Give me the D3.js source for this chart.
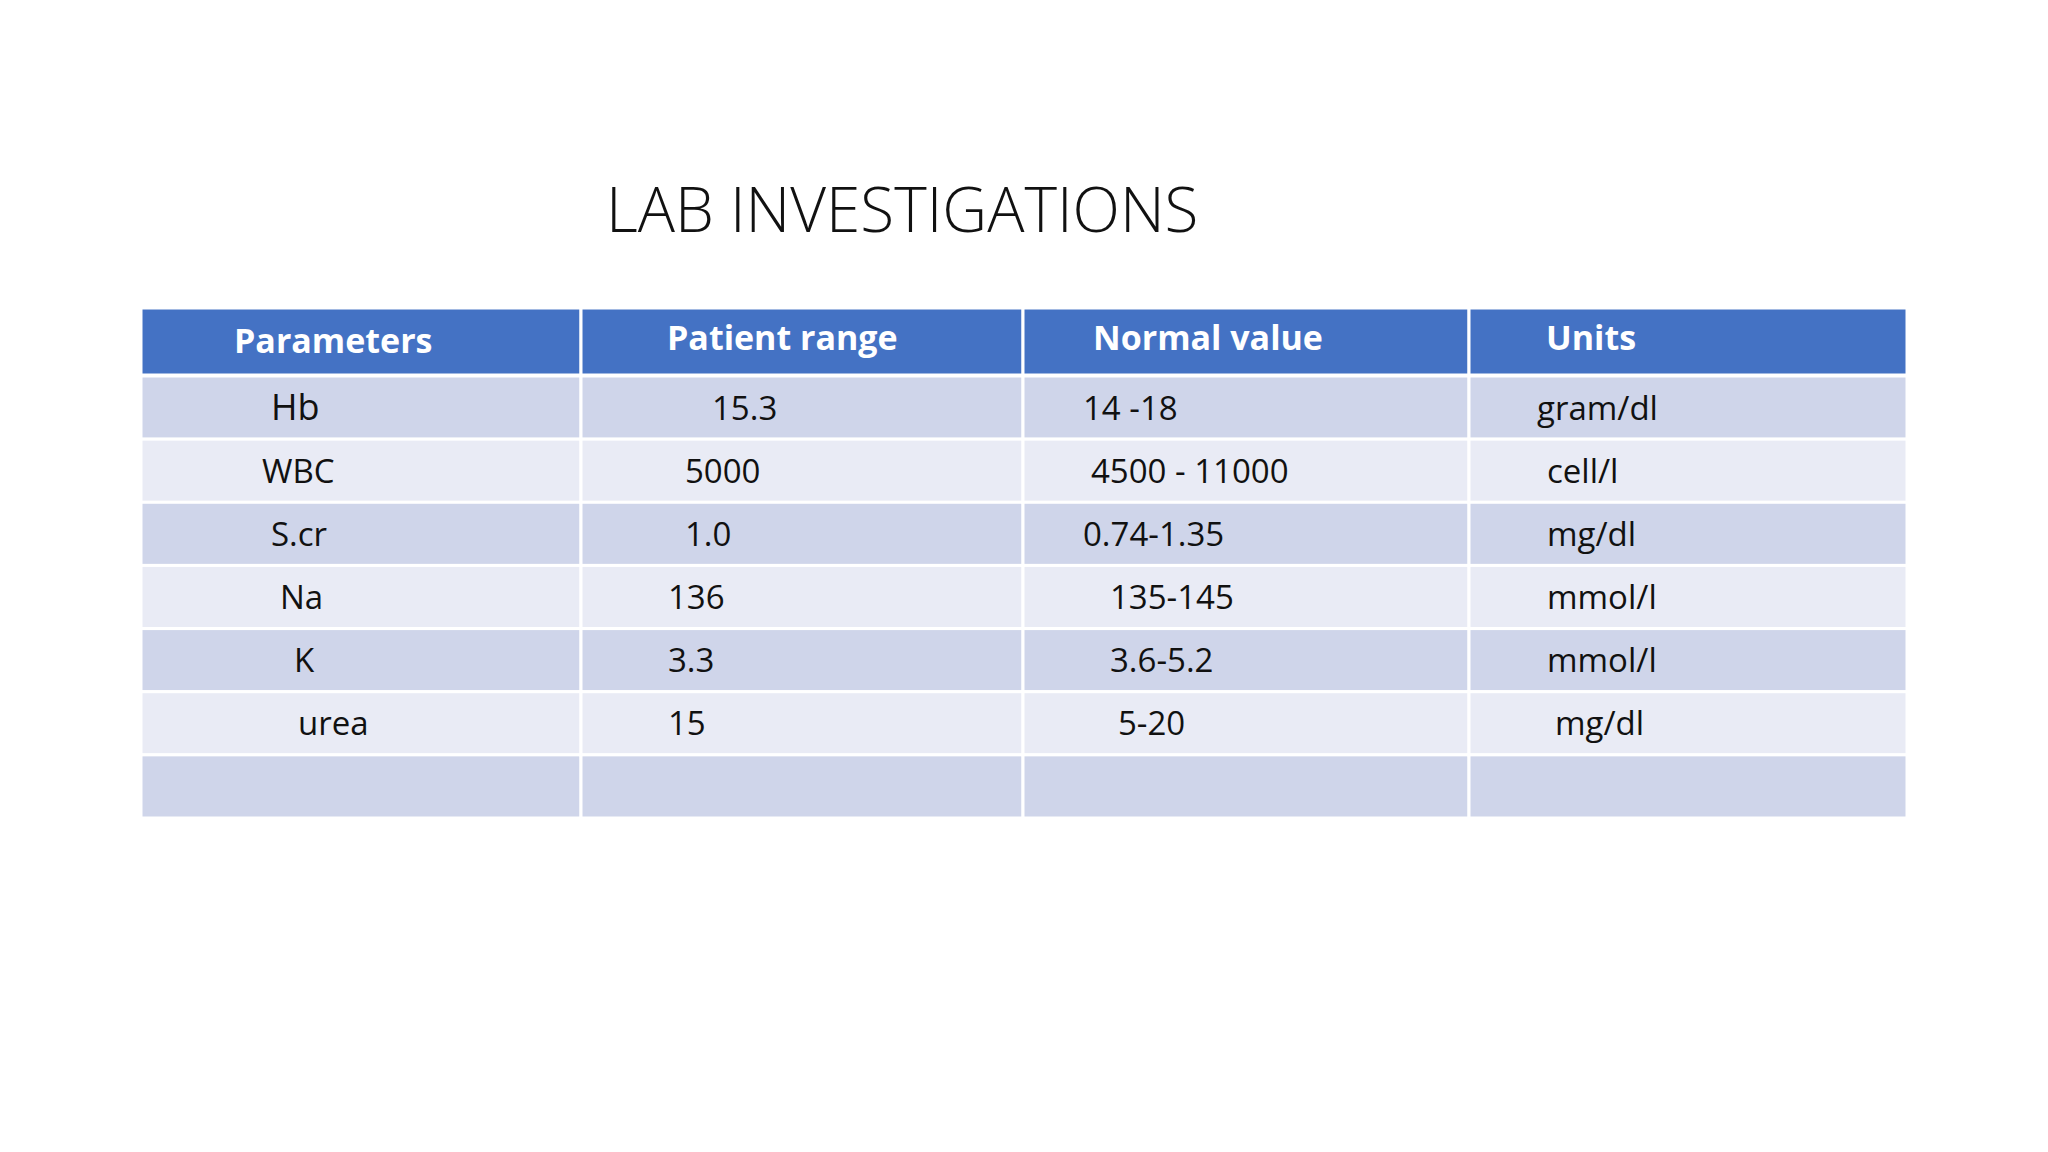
<!DOCTYPE html>
<html><head><meta charset="utf-8">
<script src="https://cdn.jsdelivr.net/npm/d3@7"></script>
<style>body{margin:0;background:#fff}text{font-family:"Open Sans",Calibri,sans-serif}</style>
</head><body>
<svg id="c" width="2048" height="1152"></svg>
<script>
const title = "LAB INVESTIGATIONS";
const headers = ["Parameters","Patient range","Normal value","Units"];
const parameters = ["Hb","WBC","S.cr","Na","K","urea",""];
const patient = ["15.3","5000","1.0","136","3.3","15",""];
const normal = ["14 -18","4500 - 11000","0.74-1.35","135-145","3.6-5.2","5-20",""];
const units = ["gram/dl","cell/l","mg/dl","mmol/l","mmol/l","mg/dl",""];
const columns = [parameters, patient, normal, units];

const svg = d3.select("#c");
const colEdges = [141, 581, 1023, 1469, 1907];
const x = d3.scaleLinear().domain([0,1,2,3,4]).range(colEdges);
const rowTop = 376, rowBottom = 818;
const y = d3.scaleLinear().domain([0, parameters.length]).range([rowTop, rowBottom]);
const headerTop = 308, headerBottom = 375;

svg.append("text").attr("x",606).attr("y",232).attr("font-size",62).attr("font-weight",300).attr("fill","#111").text(title);

// header
svg.selectAll(".h").data(headers).join("rect")
  .attr("x",(d,i)=>x(i)).attr("y",headerTop).attr("width",(d,i)=>x(i+1)-x(i)).attr("height",headerBottom-headerTop)
  .attr("fill","#4472C4").attr("stroke","#fff").attr("stroke-width",3);
const hOff=[93,86,70,77], hY=[353,350,350,350];
svg.selectAll(".ht").data(headers).join("text")
  .attr("x",(d,i)=>x(i)+hOff[i]).attr("y",(d,i)=>hY[i]).attr("font-size",34).attr("font-weight",700).attr("fill","#fff").text(d=>d);

// body cells
const cells=[];
columns.forEach((col,ci)=>col.forEach((v,ri)=>cells.push({ci,ri,v})));
svg.selectAll(".cell").data(cells).join("rect")
  .attr("x",d=>x(d.ci)).attr("y",d=>y(d.ri)).attr("width",d=>x(d.ci+1)-x(d.ci)).attr("height",d=>y(d.ri+1)-y(d.ri))
  .attr("fill",d=>d.ri%2===0?"#CFD5EA":"#E9EBF5").attr("stroke","#fff").attr("stroke-width",3);
const offs=[[130,121,130,139,153,157],[131,104,104,87,87,87],[60,68,60,87,87,95],[68,78,78,78,78,86]];
svg.selectAll(".ct").data(cells.filter(d=>d.v)).join("text")
  .attr("x",d=>x(d.ci)+offs[d.ci][d.ri]).attr("y",d=>(y(d.ri)+y(d.ri+1))/2+12)
  .attr("font-size",d=>d.ci===0&&d.ri===0?36:33).attr("fill","#111").text(d=>d.v);
</script></body></html>
